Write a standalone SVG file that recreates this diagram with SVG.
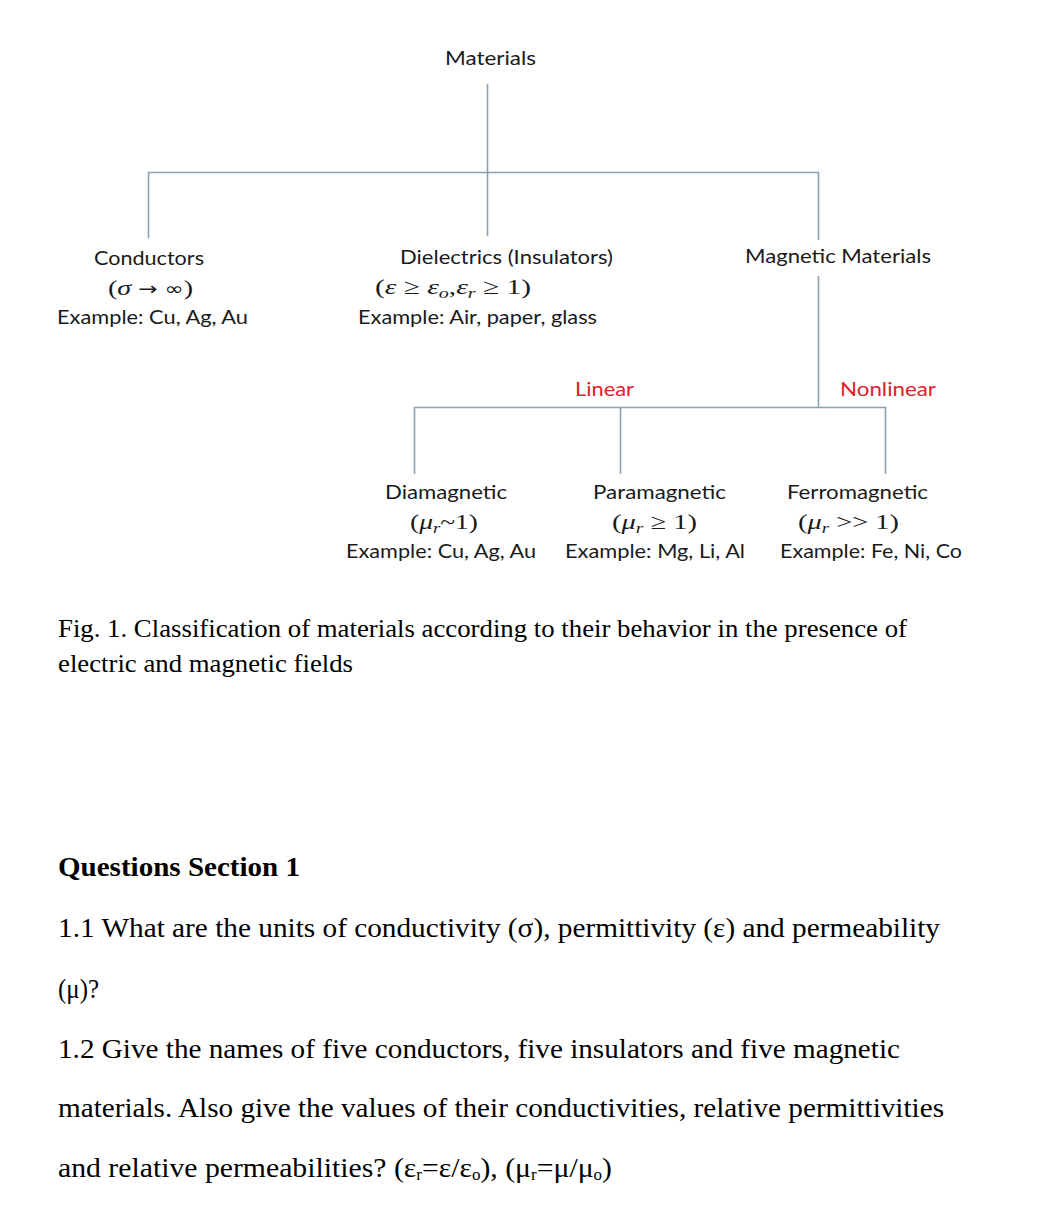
<svg xmlns="http://www.w3.org/2000/svg" width="1058" height="1210" viewBox="0 0 1058 1210">
<style>
.s{font-family:Lato,"Open Sans","Liberation Sans",sans-serif;font-size:20px;fill:#1a1a1a}
.r{fill:#e0202a}
.m{font-family:"Liberation Serif","DejaVu Serif",serif;font-size:22px;fill:#1a1a1a}
.i{font-style:italic}
.sub{font-size:15px}
.sym{font-family:"DejaVu Sans",sans-serif;font-size:18px}
.t{font-family:"Liberation Serif","Times New Roman",serif;font-size:26px;fill:#000}
.q{font-family:"Liberation Serif","Times New Roman",serif;font-size:28px;fill:#000}
.b{font-weight:bold}
.ln{stroke:#8aa0b4;stroke-width:1.6;fill:none}
</style>
<rect width="1058" height="1210" fill="#fff"/>
<g id="connectors">
<path class="ln" d="M487.5 84V236M148.5 238V172.5H818.5V240M818.5 276V407.5M414.5 474V407.5H885.5V474M620.5 407.5V474"/>
</g>
<g id="materials"><text class="s" x="445" y="65" textLength="91" lengthAdjust="spacingAndGlyphs">Materials</text></g>
<g id="conductors">
<text class="s" x="94" y="265" textLength="110" lengthAdjust="spacingAndGlyphs">Conductors</text>
<text class="m" x="108" y="295" textLength="85" lengthAdjust="spacingAndGlyphs">(<tspan class="i">σ</tspan> <tspan class="sym">→</tspan> <tspan class="sym">∞</tspan>)</text>
<text class="s" x="57" y="324" textLength="191" lengthAdjust="spacingAndGlyphs">Example: Cu, Ag, Au</text>
</g>
<g id="dielectrics">
<text class="s" x="400" y="264" textLength="213" lengthAdjust="spacingAndGlyphs">Dielectrics (Insulators)</text>
<text class="m" x="375" y="294" textLength="156" lengthAdjust="spacingAndGlyphs">(<tspan class="i">ε</tspan> ≥ <tspan class="i">ε</tspan><tspan class="i sub" dy="4">o</tspan><tspan dy="-4">,</tspan><tspan class="i">ε</tspan><tspan class="i sub" dy="4">r</tspan><tspan dy="-4"> ≥ 1)</tspan></text>
<text class="s" x="358" y="324" textLength="239" lengthAdjust="spacingAndGlyphs">Example: Air, paper, glass</text>
</g>
<g id="magnetic">
<text class="s" x="745" y="263" textLength="186" lengthAdjust="spacingAndGlyphs">Magnetic Materials</text>
</g>
<g id="linear"><text class="s r" x="575" y="396" textLength="59" lengthAdjust="spacingAndGlyphs">Linear</text></g>
<g id="nonlinear"><text class="s r" x="840" y="396" textLength="96" lengthAdjust="spacingAndGlyphs">Nonlinear</text></g>
<g id="diamagnetic">
<text class="s" x="385" y="499" textLength="122" lengthAdjust="spacingAndGlyphs">Diamagnetic</text>
<text class="m" x="410" y="529" textLength="68" lengthAdjust="spacingAndGlyphs">(<tspan class="i">μ</tspan><tspan class="i sub" dy="4">r</tspan><tspan dy="-4">~1)</tspan></text>
<text class="s" x="346" y="558" textLength="190" lengthAdjust="spacingAndGlyphs">Example: Cu, Ag, Au</text>
</g>
<g id="paramagnetic">
<text class="s" x="593" y="499" textLength="133" lengthAdjust="spacingAndGlyphs">Paramagnetic</text>
<text class="m" x="612" y="529" textLength="85" lengthAdjust="spacingAndGlyphs">(<tspan class="i">μ</tspan><tspan class="i sub" dy="4">r</tspan><tspan dy="-4"> ≥ 1)</tspan></text>
<text class="s" x="565" y="558" textLength="180" lengthAdjust="spacingAndGlyphs">Example: Mg, Li, Al</text>
</g>
<g id="ferromagnetic">
<text class="s" x="787" y="499" textLength="141" lengthAdjust="spacingAndGlyphs">Ferromagnetic</text>
<text class="m" x="798" y="529" textLength="101" lengthAdjust="spacingAndGlyphs">(<tspan class="i">μ</tspan><tspan class="i sub" dy="4">r</tspan><tspan dy="-4"> &gt;&gt; 1)</tspan></text>
<text class="s" x="780" y="558" textLength="182" lengthAdjust="spacingAndGlyphs">Example: Fe, Ni, Co</text>
</g>
<g id="caption">
<text class="t" x="58" y="637" textLength="849" lengthAdjust="spacingAndGlyphs">Fig. 1. Classification of materials according to their behavior in the presence of</text>
<text class="t" x="58" y="672" textLength="295" lengthAdjust="spacingAndGlyphs">electric and magnetic fields</text>
</g>
<g id="questions">
<text class="q b" x="58" y="876" textLength="242" lengthAdjust="spacingAndGlyphs">Questions Section 1</text>
<text class="q" x="58" y="937" textLength="882" lengthAdjust="spacingAndGlyphs">1.1 What are the units of conductivity (σ), permittivity (ε) and permeability</text>
<text class="q" x="58" y="998" textLength="41" lengthAdjust="spacingAndGlyphs">(μ)?</text>
<text class="q" x="58" y="1058" textLength="842" lengthAdjust="spacingAndGlyphs">1.2 Give the names of five conductors, five insulators and five magnetic</text>
<text class="q" x="58" y="1117" textLength="886" lengthAdjust="spacingAndGlyphs">materials. Also give the values of their conductivities, relative permittivities</text>
<text class="q" x="58" y="1177" textLength="554" lengthAdjust="spacingAndGlyphs">and relative permeabilities? (ε<tspan font-size="16" dy="3">r</tspan><tspan dy="-3">=ε/ε</tspan><tspan font-size="16" dy="3">o</tspan><tspan dy="-3">), (μ</tspan><tspan font-size="16" dy="3">r</tspan><tspan dy="-3">=μ/μ</tspan><tspan font-size="16" dy="3">o</tspan><tspan dy="-3">)</tspan></text>
</g>
</svg>
